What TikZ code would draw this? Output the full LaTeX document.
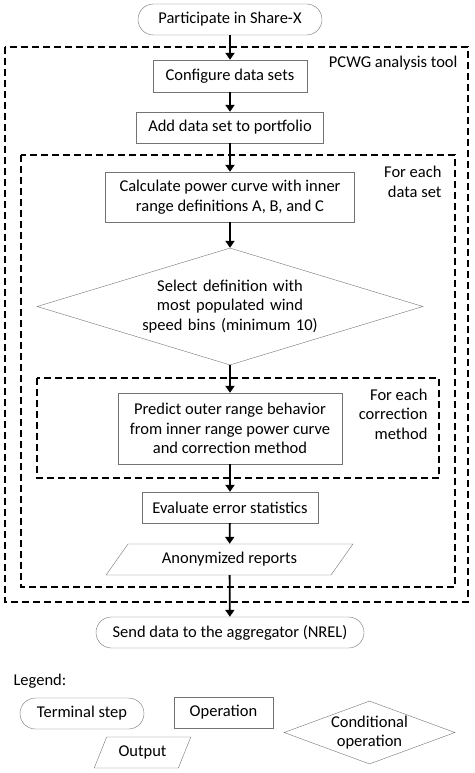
\documentclass[tikz,border=0pt]{standalone}
\usepackage{fontspec}
\setmainfont{Carlito}
\usetikzlibrary{shapes.geometric,shapes.misc,arrows.meta}

\tikzset{
  terminal/.style={draw=black!55, rounded rectangle, minimum height=31pt, inner sep=0pt},
  operation/.style={draw=black!55, rectangle, minimum height=31pt, inner sep=0pt, align=center},
  decision/.style={draw=black!55, diamond, inner sep=0pt, align=center},
  output/.style={draw=black!55, trapezium, trapezium stretches=true, minimum height=31pt, inner sep=0pt},
  frame/.style={line width=1.6pt, dash pattern=on 7pt off 4pt},
  flow/.style={line width=1.8pt, -{Triangle[length=7pt,width=9pt]}},
}

\begin{document}
\begin{tikzpicture}[x=1pt,y=-1pt,font=\fontsize{16.5}{19.5}\selectfont]
    \useasboundingbox (0,0) rectangle (474,773);

    % loops of the analysis
    \draw [frame] (5,47) rectangle (468,602);
    \draw [frame] (21,155) rectangle (455,587);
    \draw [frame] (37,378) rectangle (439,478);
    \node[anchor=east] (tool) at (461,63) {PCWG analysis tool};
    \node[anchor=east, align=right] (eachset) at (445,182) {For each\\data set};
    \node[anchor=east, align=right] (eachcorr) at (431,414) {For each\\correction\\method};

    % steps
    \node[terminal, minimum width=184pt] (start) at (230,19.5) {Participate in Share-X};
    \node[operation, minimum width=154pt, minimum height=32pt] (config) at (230,76) {Configure data sets};
    \node[operation, minimum width=187pt] (addset) at (230,127.5) {Add data set to portfolio};
    \node[operation, minimum width=249pt, minimum height=50pt] (calc) at (230,197) {Calculate power curve with inner\\range definitions A, B, and C};
    \node[decision, minimum width=358pt, minimum height=117pt, aspect=3.5, text width=200pt] (select) at (230,306.5) {Select definition with\\most populated wind\\speed bins (minimum 10)};
    \node[operation, minimum width=224pt, minimum height=71pt] (predict) at (230,428.5) {Predict outer range behavior\\from inner range power curve\\and correction method};
    \node[operation, minimum width=176pt] (evaluate) at (230,507.5) {Evaluate error statistics};
    \node[output, minimum width=247pt, trapezium left angle=44, trapezium right angle=136] (reports) at (229.5,559.5) {Anonymized reports};
    \node[terminal, minimum width=268pt] (send) at (230,632.5) {Send data to the aggregator (NREL)};

    \draw [flow] (start) -- (config);
    \draw [flow] (config) -- (addset);
    \draw [flow] (addset) -- (calc);
    \draw [flow] (calc) -- (select);
    \draw [flow] (select) -- (predict);
    \draw [flow] (predict) -- (evaluate);
    \draw [flow] (evaluate) -- (reports);
    \draw [flow] (reports) -- (send);

    % legend
    \node[anchor=west] (legend) at (10,681) {Legend:};
    \node[terminal, minimum width=124pt] (legterm) at (82,713.5) {Terminal step};
    \node[operation, minimum width=99pt] (legop) at (223.5,712.5) {Operation};
    \node[output, minimum width=97pt, trapezium left angle=58, trapezium right angle=122] (legout) at (142.5,752.5) {Output};
    \node[decision, minimum width=171pt, minimum height=63pt, aspect=2.7] (legcond) at (369.5,732.5) {Conditional\\operation};
\end{tikzpicture}
\end{document}
